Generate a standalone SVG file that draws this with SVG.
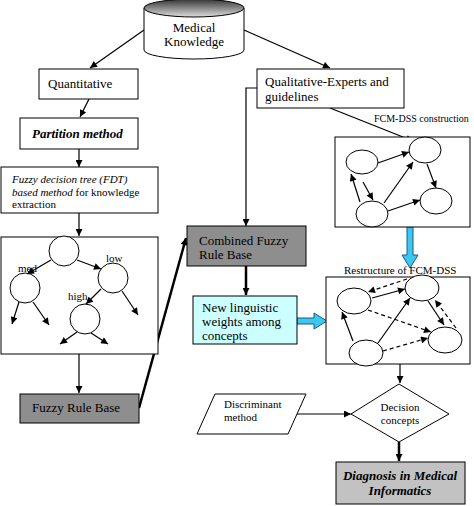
<svg xmlns="http://www.w3.org/2000/svg" width="474" height="506" viewBox="0 0 474 506" font-family="'Liberation Serif', 'Times New Roman', Tinos, 'DejaVu Serif', serif">
<defs>
<marker id="ah" viewBox="0 0 10 10" refX="10" refY="5" markerWidth="8" markerHeight="7" markerUnits="userSpaceOnUse" orient="auto"><path d="M0,0 L10,5 L0,10 z" fill="#000"/></marker>
<linearGradient id="cylTop" x1="0" y1="0" x2="0" y2="1"><stop offset="0" stop-color="#333"/><stop offset="1" stop-color="#ddd"/></linearGradient>
</defs>
<style>
.box{fill:#fff;stroke:#000;stroke-width:1}
.dark{fill:#8e8e8e;stroke:#000;stroke-width:1}
.light{fill:#c2c2c2;stroke:#000;stroke-width:1}
.cyan{fill:#ccffff;stroke:#000;stroke-width:1}
.t{font-family:'Liberation Serif','Times New Roman',Tinos,'DejaVu Serif',serif;font-size:13px;fill:#000}
.s{font-size:11px}
.xs{font-size:10px}
.bi{font-weight:bold;font-style:italic}
.i{font-style:italic}
.c{fill:#fff;stroke:#000;stroke-width:1}
.ln{stroke:#000;stroke-width:1.2;fill:none;marker-end:url(#ah)}
.thick{stroke:#000;stroke-width:2.5;fill:none;marker-end:url(#ah)}
.dash{stroke:#000;stroke-width:1.2;fill:none;stroke-dasharray:4,3;marker-end:url(#ah)}
.blk{fill:#3cc8ee;stroke:#1a5a8a;stroke-width:1}
</style>

<g id="connectors">
<line class="ln" x1="144" y1="30" x2="90" y2="68"/>
<line class="ln" x1="244" y1="30" x2="330" y2="68"/>
<line class="ln" x1="89" y1="99" x2="80" y2="117"/>
<line class="ln" x1="79" y1="149" x2="79" y2="167"/>
<line class="ln" x1="79" y1="213" x2="79" y2="236"/>
<line class="ln" x1="79" y1="354" x2="79" y2="393"/>
<line class="thick" x1="139" y1="408" x2="186" y2="238"/>
<polyline class="ln" points="257,88 246,88 246,226"/>
<line class="thick" x1="246" y1="266" x2="246" y2="295"/>
<line class="ln" x1="330" y1="108" x2="413" y2="141"/>
<line class="ln" x1="400" y1="364" x2="400" y2="383"/>
<line class="ln" x1="293" y1="414" x2="351" y2="414"/>
<line class="thick" x1="399" y1="442" x2="399" y2="461"/>
<polygon class="blk" points="407,227 413,227 413,255 418,255 410,268 402,255 407,255"/>
<polygon class="blk" points="297,318 314,318 314,313 327,321 314,329 314,324 297,324"/>
</g>

<g id="medical-knowledge">
<path d="M144,8 L144,50 A50,9 0 0 0 244,50 L244,8" class="box"/>
<ellipse cx="194" cy="8" rx="50" ry="9" fill="url(#cylTop)" stroke="#000"/>
<text class="t" x="194" y="32" text-anchor="middle">Medical</text>
<text class="t" x="194" y="46" text-anchor="middle">Knowledge</text>
</g>

<g id="quantitative">
<rect class="box" x="39" y="69" width="99" height="30"/>
<text class="t" x="48" y="88">Quantitative</text>
</g>

<g id="partition">
<rect class="box" x="20" y="118" width="118" height="31"/>
<text class="t bi" x="32" y="138">Partition method</text>
</g>

<g id="fdt">
<rect class="box" x="1" y="167" width="157" height="46"/>
<text class="t s" x="12" y="183"><tspan class="i">Fuzzy decision tree (FDT)</tspan></text>
<text class="t s" x="12" y="196"><tspan class="i">based method</tspan> for knowledge</text>
<text class="t s" x="12" y="208">extraction</text>
</g>

<g id="tree">
<rect class="box" x="1" y="237" width="157" height="117"/>
<circle class="c" cx="64" cy="251" r="15"/>
<circle class="c" cx="25" cy="288" r="15"/>
<circle class="c" cx="113" cy="278" r="15"/>
<circle class="c" cx="85" cy="319" r="15"/>
<line class="ln" x1="51" y1="260" x2="27" y2="274"/>
<line class="ln" x1="77" y1="260" x2="101" y2="269"/>
<line class="ln" x1="101" y1="289" x2="86" y2="304"/>
<line class="ln" x1="122" y1="291" x2="138" y2="315"/>
<line class="ln" x1="19" y1="302" x2="12" y2="324"/>
<line class="ln" x1="33" y1="302" x2="49" y2="325"/>
<line class="ln" x1="77" y1="332" x2="60" y2="344"/>
<line class="ln" x1="91" y1="333" x2="108" y2="344"/>
<text class="t s" x="18" y="272">med</text>
<text class="t s" x="106" y="262">low</text>
<text class="t s" x="68" y="300">high</text>
</g>

<g id="fuzzy-rule-base">
<rect class="dark" x="20" y="394" width="119" height="29"/>
<text class="t" x="32" y="412">Fuzzy Rule Base</text>
</g>

<g id="qualitative">
<rect class="box" x="257" y="69" width="147" height="39"/>
<text class="t" x="265" y="86">Qualitative-Experts and</text>
<text class="t" x="265" y="101">guidelines</text>
</g>

<g id="fcm-label">
<text class="t xs" x="374" y="122">FCM-DSS construction</text>
</g>

<g id="fcm-construction">
<rect class="box" x="335" y="137" width="135" height="90"/>
<ellipse class="c" cx="362" cy="162" rx="16" ry="12"/>
<ellipse class="c" cx="425" cy="150" rx="16" ry="13"/>
<ellipse class="c" cx="372" cy="214" rx="16" ry="13"/>
<ellipse class="c" cx="436" cy="201" rx="16" ry="13"/>
<line class="ln" x1="378" y1="163" x2="409" y2="152"/>
<line class="ln" x1="384" y1="203" x2="413" y2="162"/>
<line class="ln" x1="360" y1="202" x2="351" y2="174"/>
<line class="ln" x1="363" y1="182" x2="373" y2="200"/>
<line class="ln" x1="427" y1="164" x2="436" y2="188"/>
<line class="ln" x1="388" y1="211" x2="420" y2="200"/>
</g>

<g id="restructure-label">
<text class="t s" x="344" y="274">Restructure of FCM-DSS</text>
</g>

<g id="fcm-restructure">
<rect class="box" x="326" y="277" width="144" height="87"/>
<ellipse class="c" cx="354" cy="301" rx="17" ry="13"/>
<ellipse class="c" cx="422" cy="288" rx="17" ry="13"/>
<ellipse class="c" cx="445" cy="340" rx="17" ry="13"/>
<ellipse class="c" cx="366" cy="353" rx="17" ry="13"/>
<line class="dash" x1="407" y1="279" x2="368" y2="292"/>
<line class="ln" x1="372" y1="298" x2="405" y2="289"/>
<line class="ln" x1="428" y1="301" x2="444" y2="325"/>
<line class="dash" x1="456" y1="328" x2="435" y2="300"/>
<line class="dash" x1="368" y1="310" x2="431" y2="332"/>
<line class="ln" x1="353" y1="341" x2="342" y2="312"/>
<line class="ln" x1="378" y1="343" x2="410" y2="298"/>
<line class="dash" x1="383" y1="351" x2="428" y2="338"/>
</g>

<g id="combined">
<rect class="dark" x="187" y="226" width="119" height="40"/>
<text class="t" x="199" y="245">Combined Fuzzy</text>
<text class="t" x="199" y="259">Rule Base</text>
</g>

<g id="new-weights">
<rect class="cyan" x="193" y="296" width="104" height="48"/>
<text class="t" x="202" y="312">New linguistic</text>
<text class="t" x="202" y="326">weights among</text>
<text class="t" x="202" y="340">concepts</text>
</g>

<g id="discriminant">
<polygon class="box" points="215,394 306,394 288,434 197,434"/>
<text class="t s" x="224" y="408">Discriminant</text>
<text class="t s" x="224" y="421">method</text>
</g>

<g id="decision">
<polygon class="box" points="399,384 449,414 399,442 351,414"/>
<text class="t s" x="400" y="411" text-anchor="middle">Decision</text>
<text class="t s" x="400" y="424" text-anchor="middle">concepts</text>
</g>

<g id="diagnosis">
<rect class="light" x="336" y="462" width="129" height="42"/>
<text class="t bi" x="400" y="480" text-anchor="middle">Diagnosis in Medical</text>
<text class="t bi" x="400" y="495" text-anchor="middle">Informatics</text>
</g>
</svg>
